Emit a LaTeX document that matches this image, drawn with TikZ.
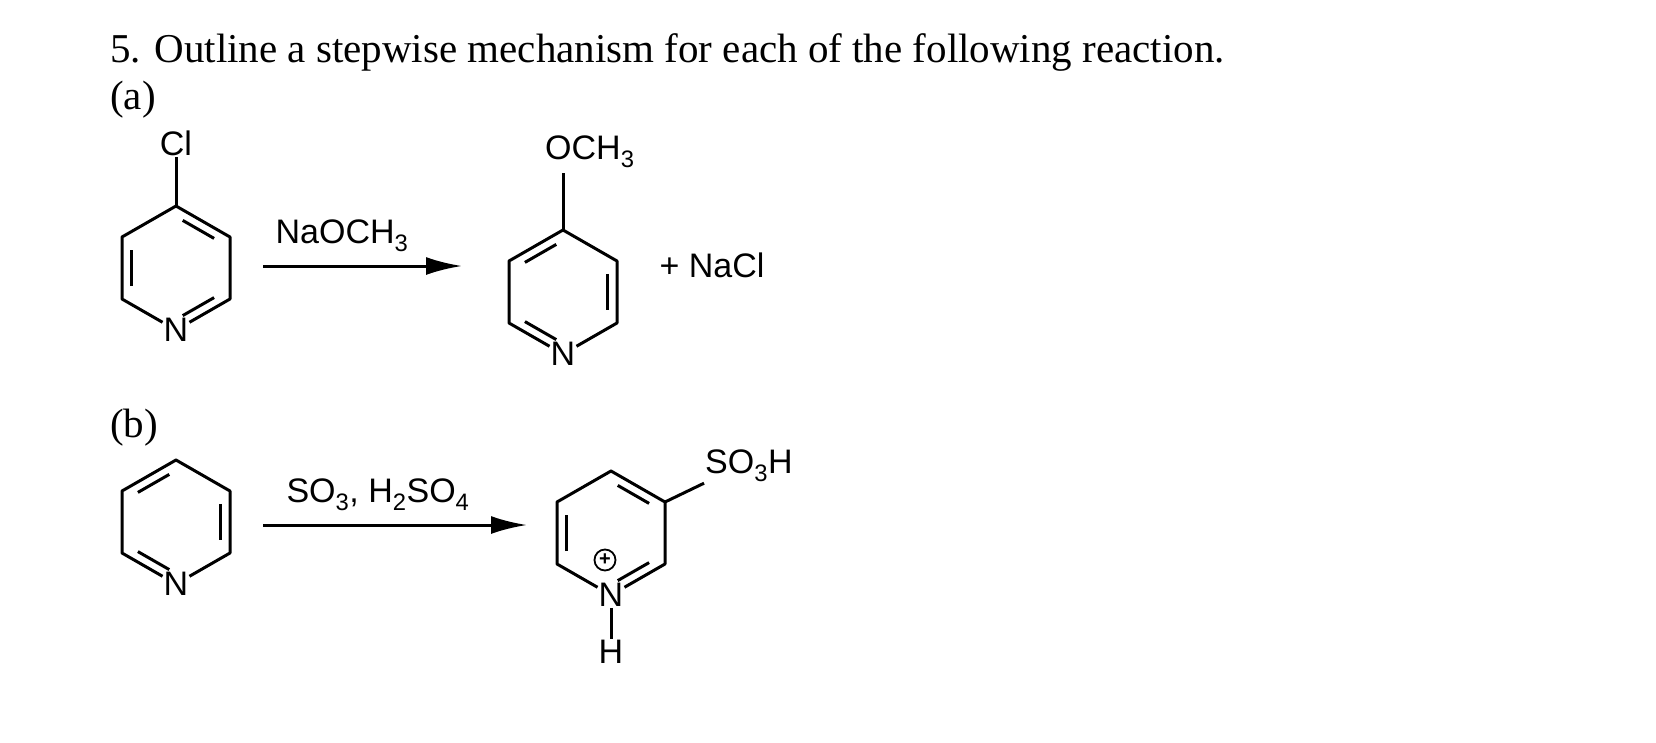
\documentclass[tikz,border=0pt]{standalone}
\usepackage{fontspec}
\setmainfont{Liberation Serif}
\newfontfamily\chemf{Liberation Sans}
\usetikzlibrary{arrows.meta,calc}
\tikzset{bnd/.style={line width=3pt},
  atom/.style={inner sep=1pt,font=\chemf\fontsize{34}{38}\selectfont},
  ttl/.style={inner sep=0pt,anchor=west,font=\fontsize{41}{46}\selectfont},
  rxn/.style={line width=3pt,-{Latex[length=36pt,width=18pt]}}}
\newcommand{\ringpts}[3]{%
  \coordinate (#3t) at (#1,#2-62);
  \coordinate (#3ur) at (#1+54,#2-31);
  \coordinate (#3lr) at (#1+54,#2+31);
  \coordinate (#3b) at (#1,#2+62);
  \coordinate (#3ll) at (#1-54,#2+31);
  \coordinate (#3ul) at (#1-54,#2-31);
  \coordinate (#3c) at (#1,#2);}
\newcommand{\dbl}[3]{\draw[bnd] ($(#1)!0.15!(#2)!0.17!(#3c)$) -- ($(#2)!0.15!(#1)!0.17!(#3c)$);}
\begin{document}
\begin{tikzpicture}[x=1pt,y=-1pt]
\useasboundingbox (0,0) rectangle (1656,742);
\node[ttl] (title) at (110,52) {5. Outline a stepwise mechanism for each of the following reaction.};
\node[ttl] (pa) at (110,100) {(a)};
\node[ttl] (pb) at (110,428) {(b)};
% a1
\ringpts{176}{268}{A}
\node[atom] (An) at (Ab) {N};
\node[atom] (Acl) at (176,143) {Cl};
\draw[bnd,line join=round] (An) -- (All) -- (Aul) -- (At) -- (Aur) -- (Alr) -- (An);
\draw[bnd] (At) -- (Acl);
\dbl{At}{Aur}{A}\dbl{All}{Aul}{A}\dbl{Alr}{Ab}{A}
% arrow a
\coordinate (a1) at (263,266); \coordinate (a2) at (462,266);
\draw[rxn] (a1) -- (a2);
\node[atom] (ra) at (342,236) {NaOCH\textsubscript{3}};
% a2
\ringpts{563}{292}{B}
\node[atom] (Bn) at (Bb) {N};
\node[atom,anchor=west] (Bo) at (544,152) {OCH\textsubscript{3}};
\draw[bnd,line join=round] (Bn) -- (Bll) -- (Bul) -- (Bt) -- (Bur) -- (Blr) -- (Bn);
\draw[bnd] (Bt) -- (563,173);
\dbl{Bt}{Bul}{B}\dbl{Bur}{Blr}{B}\dbl{Bll}{Bb}{B}
\node[atom] (nacl) at (712,265) {+ NaCl};
% b1
\ringpts{176}{522}{C}
\node[atom] (Cn) at (Cb) {N};
\draw[bnd,line join=round] (Cn) -- (Cll) -- (Cul) -- (Ct) -- (Cur) -- (Clr) -- (Cn);
\dbl{Ct}{Cul}{C}\dbl{Cur}{Clr}{C}\dbl{Cll}{Cb}{C}
% arrow b
\coordinate (b1) at (263,525); \coordinate (b2) at (527,525);
\draw[rxn] (b1) -- (b2);
\node[atom] (rb) at (378,495) {SO\textsubscript{3}, H\textsubscript{2}SO\textsubscript{4}};
% b2
\ringpts{611}{533}{D}
\node[atom] (Dn) at (Db) {N};
\draw[bnd,line join=round] (Dn) -- (Dll) -- (Dul) -- (Dt) -- (Dur) -- (Dlr) -- (Dn);
\dbl{Dt}{Dur}{D}\dbl{Dll}{Dul}{D}\dbl{Dlr}{Db}{D}
\node[atom,anchor=west] (Ds) at (704,466) {SO\textsubscript{3}H};
\draw[bnd] (Dur) -- (Ds.south west);
\node[atom] (Dh) at (611,652) {H};
\draw[bnd] (Dn) -- (Dh);
\node[circle,draw,line width=1.8pt,inner sep=0pt,minimum size=21pt,font=\chemf\bfseries\fontsize{20}{20}\selectfont] (plus) at (605,560) {+};
\end{tikzpicture}
\end{document}
